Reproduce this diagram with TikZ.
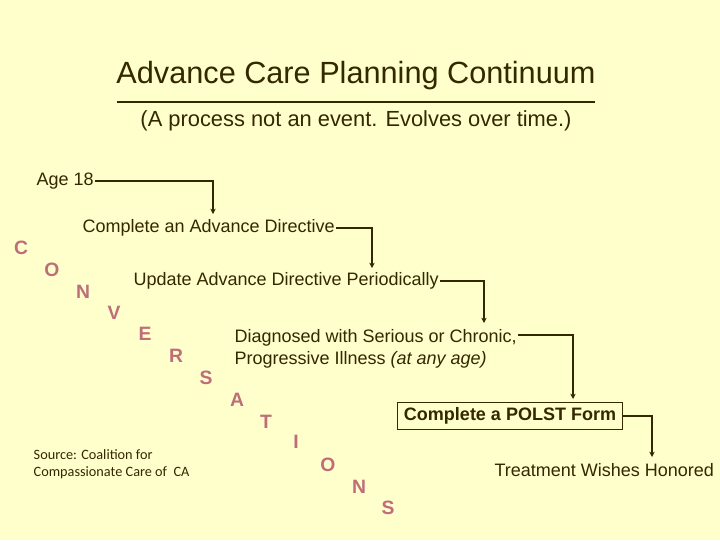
\documentclass[tikz,border=0pt]{standalone}
\usepackage{fontspec}
\setmainfont{Liberation Sans}
\newfontfamily\srcfont{Carlito}
\usetikzlibrary{arrows.meta}
\definecolor{bgyellow}{RGB}{255,255,204}
\definecolor{ink}{RGB}{51,40,0}
\definecolor{letterfill}{RGB}{190,110,120}
\begin{document}
\begin{tikzpicture}[
    x=0.75pt, y=-0.75pt,
    stage/.style={
        anchor=west,
        inner sep=1pt,
        text=ink,
        font=\fontsize{13.5}{16}\selectfont
    },
    letter/.style={
        text=letterfill,
        font=\fontsize{14.5}{16}\selectfont\bfseries
    },
    link/.style={
        draw=ink,
        line width=1.2pt,
        -{Stealth[length=4pt,width=4pt]}
    }
]

% Background
\fill[bgyellow] (0,0) rectangle (720,540);
\useasboundingbox (0,0) rectangle (720,540);

% Title
\node[text=ink, font=\fontsize{23}{27}\selectfont] (title) at (356,76) {Advance Care Planning Continuum};
\draw[ink, line width=1.5pt] ([yshift=-5pt]title.south west) ++(4pt,0) coordinate (ulA) -- ([xshift=-4pt,yshift=-5pt]title.south east);
\node[text=ink, font=\fontsize{16.4}{19}\selectfont] (subtitle) at (356,121) {(A process not an event. Evolves over time.)};

% Stages
\node[stage] (age) at (35,181) {Age 18};
\node[stage] (directive) at (81,228) {Complete an Advance Directive};
\node[stage] (update) at (132,281) {Update Advance Directive Periodically};
\node[stage, align=left] (diagnosed) at (233,349) {Diagnosed with Serious or Chronic,\\Progressive Illness \textit{(at any age)}};
\node[draw=ink, line width=0.6pt, text=ink, font=\fontsize{13.5}{16}\selectfont\bfseries,
      inner xsep=5pt, inner ysep=4pt] (polst) at (510,416) {Complete a POLST Form};
\node[stage] (honored) at (493,470) {Treatment Wishes Honored};

% Source
\node[anchor=west, align=left, text=ink, font=\srcfont\fontsize{10.7}{13}\selectfont] (source) at (29,464) {Source: Coalition for\\Compassionate Care of\ \ CA};

% Letters
\foreach \ch/\px/\py [count=\i] in {C/21/248, O/52/270, N/83/292, V/114/313, E/145/334, R/176/356, S/206/378,
    A/237/400, T/266/422, I/296/442, O/328/465, N/359/487, S/388/508}
    \node[letter] (letter\i) at (\px,\py) {\ch};

% Arrow end points
\coordinate (tipA) at (213,214);
\coordinate (tipB) at (372,268);
\coordinate (tipC) at (484,323);
\coordinate (tipD) at (573,399);
\coordinate (tipE) at (652,457);

% Arrows
\draw[link] (age.east) -| (tipA);
\draw[link] (directive.east) -| (tipB);
\draw[link] (update.east) -| (tipC);
\draw[link] ([yshift=-5pt]diagnosed.north east) -| (tipD);
\draw[link] (polst.east) -| (tipE);

\end{tikzpicture}
\end{document}
